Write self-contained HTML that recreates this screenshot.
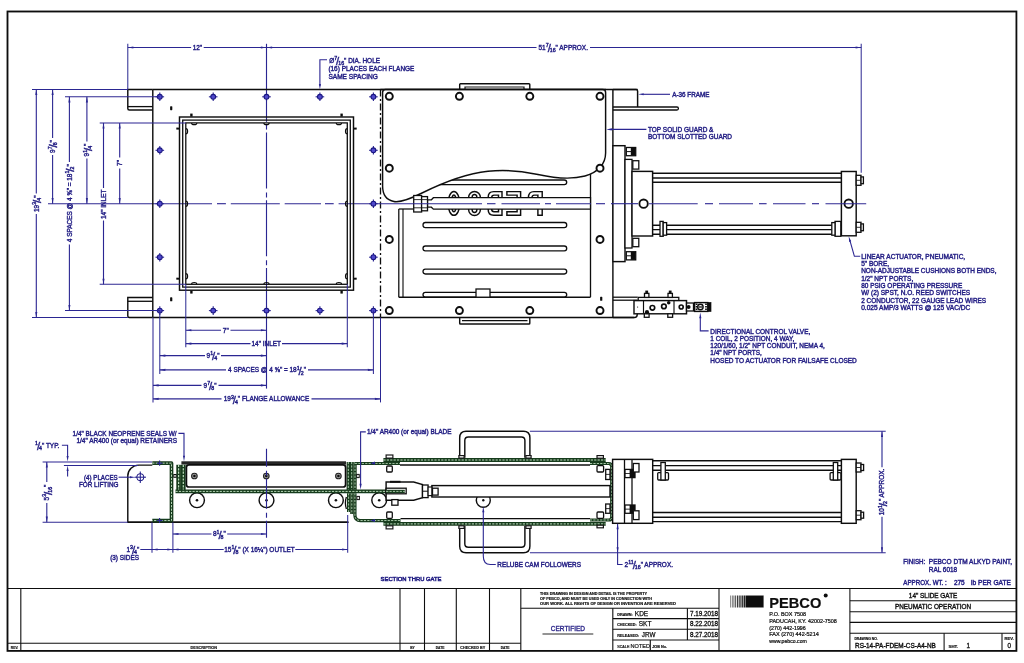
<!DOCTYPE html>
<html><head><meta charset="utf-8"><title>14" Slide Gate - Pneumatic Operation</title>
<style>
html,body{margin:0;padding:0;background:#fff;}
body{width:1024px;height:663px;overflow:hidden;font-family:"Liberation Sans",sans-serif;}
svg{display:block;}
svg text{font-family:"Liberation Sans",sans-serif;paint-order:stroke fill;}
</style></head><body>
<svg width="1024" height="663" viewBox="0 0 1024 663">
<defs>
<filter id="soft" x="0" y="0" width="100%" height="100%" filterUnits="userSpaceOnUse"><feGaussianBlur stdDeviation="0.38"/></filter>
<pattern id="hv" width="1.6" height="4" patternUnits="userSpaceOnUse"><rect width="1.6" height="4" fill="#b9dcb9"/><rect width="0.8" height="4" fill="#1d4a22"/></pattern>
<pattern id="hh" width="4" height="1.6" patternUnits="userSpaceOnUse"><rect width="4" height="1.6" fill="#b9dcb9"/><rect width="4" height="0.8" fill="#1d4a22"/></pattern>
<pattern id="hd" width="3.2" height="3.2" patternUnits="userSpaceOnUse"><rect width="3.2" height="3.2" fill="#1d4a22"/><rect x="0.4" y="1.1" width="2.2" height="1" fill="#b9dcb9"/></pattern>
</defs>
<rect width="1024" height="663" fill="#fff"/>
<g filter="url(#soft)">
<rect x="7.50" y="11.50" width="1008.90" height="639.40" rx="0" stroke="#111" stroke-width="1.81" fill="none" />
<line x1="7.5" y1="588.5" x2="1016.4" y2="588.5" stroke="#111" stroke-width="1.16" />
<line x1="20.8" y1="588.5" x2="20.8" y2="651" stroke="#111" stroke-width="1.09" />
<line x1="400" y1="588.5" x2="400" y2="651" stroke="#111" stroke-width="1.09" />
<line x1="424.5" y1="588.5" x2="424.5" y2="651" stroke="#111" stroke-width="1.09" />
<line x1="456.3" y1="588.5" x2="456.3" y2="651" stroke="#111" stroke-width="1.09" />
<line x1="489.5" y1="588.5" x2="489.5" y2="651" stroke="#111" stroke-width="1.09" />
<line x1="520.8" y1="588.5" x2="520.8" y2="651" stroke="#111" stroke-width="1.09" />
<line x1="7.5" y1="643.3" x2="520.8" y2="643.3" stroke="#111" stroke-width="1.09" />
<text x="14.5" y="648.6" font-size="3.3" fill="#111" stroke="#111" stroke-width="0.15" text-anchor="middle" font-weight="bold" >REV.</text>
<text x="203.8" y="648.6" font-size="3.3" fill="#111" stroke="#111" stroke-width="0.15" text-anchor="middle" font-weight="bold" textLength="26.5" lengthAdjust="spacingAndGlyphs" >DESCRIPTION</text>
<text x="412.5" y="648.6" font-size="3.3" fill="#111" stroke="#111" stroke-width="0.15" text-anchor="middle" font-weight="bold" >BY</text>
<text x="440" y="648.6" font-size="3.3" fill="#111" stroke="#111" stroke-width="0.15" text-anchor="middle" font-weight="bold" >DATE</text>
<text x="472.7" y="648.6" font-size="3.3" fill="#111" stroke="#111" stroke-width="0.15" text-anchor="middle" font-weight="bold" textLength="25" lengthAdjust="spacingAndGlyphs" >CHECKED BY</text>
<text x="505" y="648.6" font-size="3.3" fill="#111" stroke="#111" stroke-width="0.15" text-anchor="middle" font-weight="bold" >DATE</text>
<line x1="520.8" y1="608.2" x2="719" y2="608.2" stroke="#111" stroke-width="1.09" />
<line x1="612.8" y1="608.2" x2="612.8" y2="651" stroke="#111" stroke-width="1.09" />
<line x1="612.8" y1="618.6" x2="719" y2="618.6" stroke="#111" stroke-width="1.09" />
<line x1="612.8" y1="629.3" x2="719" y2="629.3" stroke="#111" stroke-width="1.09" />
<line x1="612.8" y1="640" x2="719" y2="640" stroke="#111" stroke-width="1.09" />
<line x1="687.4" y1="608.2" x2="687.4" y2="640" stroke="#111" stroke-width="1.09" />
<line x1="719" y1="588.5" x2="719" y2="651" stroke="#111" stroke-width="1.09" />
<line x1="650.3" y1="640" x2="650.3" y2="651" stroke="#111" stroke-width="1.09" />
<text x="540" y="594.6" font-size="3.05" fill="#111" stroke="#111" stroke-width="0.15" text-anchor="start" font-weight="bold" textLength="107" lengthAdjust="spacingAndGlyphs" >THIS DRAWING IN DESIGN AND DETAIL IS THE PROPERTY</text>
<text x="540" y="599.6" font-size="3.05" fill="#111" stroke="#111" stroke-width="0.15" text-anchor="start" font-weight="bold" textLength="112" lengthAdjust="spacingAndGlyphs" >OF PEBCO, AND MUST BE USED ONLY IN CONNECTION WITH</text>
<text x="540" y="604.6" font-size="3.05" fill="#111" stroke="#111" stroke-width="0.15" text-anchor="start" font-weight="bold" textLength="136" lengthAdjust="spacingAndGlyphs" >OUR WORK.  ALL RIGHTS OF DESIGN OR INVENTION ARE RESERVED</text>
<text x="567.9" y="631.4" font-size="6.5" fill="#231e84" stroke="#231e84" stroke-width="0.3" text-anchor="middle" font-weight="normal" textLength="34.2" lengthAdjust="spacingAndGlyphs" >CERTIFIED</text>
<line x1="542.5" y1="634" x2="593.3" y2="634" stroke="#2a2a2a" stroke-width="1.1" />
<text x="617.2" y="615.6" font-size="3.1" fill="#111" stroke="#111" stroke-width="0.15" text-anchor="start" font-weight="bold" textLength="15.5" lengthAdjust="spacingAndGlyphs" >DRAWN:</text>
<text x="634.8" y="615.8" font-size="6.3" fill="#111" stroke="#111" stroke-width="0.25" text-anchor="start" font-weight="normal" textLength="13.4" lengthAdjust="spacingAndGlyphs" >KDE</text>
<text x="617.2" y="626.2" font-size="3.1" fill="#111" stroke="#111" stroke-width="0.15" text-anchor="start" font-weight="bold" textLength="19.5" lengthAdjust="spacingAndGlyphs" >CHECKED:</text>
<text x="638.8" y="626.4" font-size="6.3" fill="#111" stroke="#111" stroke-width="0.25" text-anchor="start" font-weight="normal" textLength="12.6" lengthAdjust="spacingAndGlyphs" >SKT</text>
<text x="617.2" y="637" font-size="3.1" fill="#111" stroke="#111" stroke-width="0.15" text-anchor="start" font-weight="bold" textLength="22" lengthAdjust="spacingAndGlyphs" >RELEASED:</text>
<text x="641.8" y="637.2" font-size="6.3" fill="#111" stroke="#111" stroke-width="0.25" text-anchor="start" font-weight="normal" textLength="13.6" lengthAdjust="spacingAndGlyphs" >JRW</text>
<text x="617.2" y="647.6" font-size="3.6" fill="#111" stroke="#111" stroke-width="0.2" text-anchor="start" font-weight="normal" textLength="12.2" lengthAdjust="spacingAndGlyphs" >SCALE</text>
<text x="630.6" y="647.8" font-size="5.8" fill="#111" stroke="#111" stroke-width="0.2" text-anchor="start" font-weight="normal" textLength="19.5" lengthAdjust="spacingAndGlyphs" >NOTED</text>
<text x="652.2" y="647.8" font-size="3.1" fill="#111" stroke="#111" stroke-width="0.15" text-anchor="start" font-weight="bold" textLength="15" lengthAdjust="spacingAndGlyphs" >JOB No.</text>
<text x="690" y="615.6" font-size="6.3" fill="#111" stroke="#111" stroke-width="0.3" text-anchor="start" font-weight="normal" textLength="28" lengthAdjust="spacingAndGlyphs" >7.19.2018</text>
<text x="690" y="626.3" font-size="6.3" fill="#111" stroke="#111" stroke-width="0.3" text-anchor="start" font-weight="normal" textLength="28" lengthAdjust="spacingAndGlyphs" >8.22.2018</text>
<text x="690" y="637.1" font-size="6.3" fill="#111" stroke="#111" stroke-width="0.3" text-anchor="start" font-weight="normal" textLength="28" lengthAdjust="spacingAndGlyphs" >8.27.2018</text>
<rect x="730.2" y="595.5" width="0.5" height="12" fill="#222"/>
<rect x="731.9" y="595.5" width="0.6" height="12" fill="#222"/>
<rect x="733.6" y="595.5" width="0.7" height="12" fill="#222"/>
<rect x="735.3" y="595.5" width="0.8" height="12" fill="#222"/>
<rect x="737.0" y="595.5" width="0.9" height="12" fill="#222"/>
<rect x="738.7" y="595.5" width="1.0" height="12" fill="#222"/>
<rect x="740.4" y="595.5" width="1.1" height="12" fill="#222"/>
<rect x="742.1" y="595.5" width="1.3" height="12" fill="#222"/>
<rect x="743.9" y="595.5" width="1.4" height="12" fill="#222"/>
<rect x="745.6" y="595.5" width="18" height="12" fill="#111"/>
<text x="769.3" y="607.6" font-size="15.2" fill="#111" stroke="#111" stroke-width="0.2" text-anchor="start" font-weight="bold" textLength="52" lengthAdjust="spacingAndGlyphs" >PEBCO</text>
<circle cx="825.7" cy="595.6" r="2.0" stroke="#111" stroke-width="0.0" fill="#111"/>
<text x="769.3" y="616.2" font-size="5.2" fill="#111" stroke="#111" stroke-width="0.22" text-anchor="start" font-weight="normal" textLength="36.7" lengthAdjust="spacingAndGlyphs" >P.O. BOX 7508</text>
<text x="769.3" y="622.9" font-size="5.2" fill="#111" stroke="#111" stroke-width="0.22" text-anchor="start" font-weight="normal" textLength="67.5" lengthAdjust="spacingAndGlyphs" >PADUCAH, KY. 42002-7508</text>
<text x="769.3" y="629.6" font-size="5.2" fill="#111" stroke="#111" stroke-width="0.22" text-anchor="start" font-weight="normal" textLength="36.5" lengthAdjust="spacingAndGlyphs" >(270) 442-1996</text>
<text x="769.3" y="636.3" font-size="5.2" fill="#111" stroke="#111" stroke-width="0.22" text-anchor="start" font-weight="normal" textLength="49.5" lengthAdjust="spacingAndGlyphs" >FAX (270) 442-5214</text>
<text x="769.3" y="643.1" font-size="5.2" fill="#111" stroke="#111" stroke-width="0.22" text-anchor="start" font-weight="normal" textLength="37.5" lengthAdjust="spacingAndGlyphs" >www.pebco.com</text>
<line x1="849.9" y1="588.5" x2="849.9" y2="651" stroke="#111" stroke-width="1.09" />
<line x1="849.9" y1="600.7" x2="1016.6" y2="600.7" stroke="#111" stroke-width="1.09" />
<line x1="849.9" y1="611.7" x2="1016.6" y2="611.7" stroke="#111" stroke-width="1.09" />
<line x1="849.9" y1="622.4" x2="1016.6" y2="622.4" stroke="#111" stroke-width="1.09" />
<line x1="849.9" y1="633.2" x2="1016.6" y2="633.2" stroke="#111" stroke-width="1.09" />
<line x1="944.1" y1="633.2" x2="944.1" y2="651" stroke="#111" stroke-width="1.09" />
<line x1="1002" y1="633.2" x2="1002" y2="651" stroke="#111" stroke-width="1.09" />
<text x="933.1" y="597.7" font-size="6.3" fill="#111" stroke="#111" stroke-width="0.35" text-anchor="middle" font-weight="normal" textLength="48.5" lengthAdjust="spacingAndGlyphs" >14" SLIDE GATE</text>
<text x="933" y="608.7" font-size="6.3" fill="#111" stroke="#111" stroke-width="0.35" text-anchor="middle" font-weight="normal" textLength="76.2" lengthAdjust="spacingAndGlyphs" >PNEUMATIC OPERATION</text>
<text x="854.4" y="639.6" font-size="3.1" fill="#111" stroke="#111" stroke-width="0.15" text-anchor="start" font-weight="bold" textLength="23.4" lengthAdjust="spacingAndGlyphs" >DRAWING NO.</text>
<text x="855" y="648" font-size="6.3" fill="#111" stroke="#111" stroke-width="0.35" text-anchor="start" font-weight="normal" textLength="80.8" lengthAdjust="spacingAndGlyphs" >RS-14-PA-FDEM-CS-A4-NB</text>
<text x="948.6" y="648" font-size="3.1" fill="#111" stroke="#111" stroke-width="0.15" text-anchor="start" font-weight="bold" textLength="9.4" lengthAdjust="spacingAndGlyphs" >SHT.</text>
<text x="966.5" y="648" font-size="6.3" fill="#111" stroke="#111" stroke-width="0.3" text-anchor="start" font-weight="normal" >1</text>
<text x="1009.2" y="639.8" font-size="3.1" fill="#111" stroke="#111" stroke-width="0.15" text-anchor="middle" font-weight="bold" textLength="9.3" lengthAdjust="spacingAndGlyphs" >REV.</text>
<text x="1009.3" y="648" font-size="6.3" fill="#111" stroke="#111" stroke-width="0.3" text-anchor="middle" font-weight="normal" >0</text>
<text x="903.3" y="564" font-size="6.35" fill="#231e84" stroke="#231e84" stroke-width="0.4" text-anchor="start" font-weight="normal" textLength="22" lengthAdjust="spacingAndGlyphs" >FINISH:</text>
<text x="928.8" y="564" font-size="6.35" fill="#231e84" stroke="#231e84" stroke-width="0.4" text-anchor="start" font-weight="normal" textLength="83.4" lengthAdjust="spacingAndGlyphs" >PEBCO DTM ALKYD PAINT,</text>
<text x="928.8" y="572" font-size="6.35" fill="#231e84" stroke="#231e84" stroke-width="0.4" text-anchor="start" font-weight="normal" textLength="28.3" lengthAdjust="spacingAndGlyphs" >RAL 6018</text>
<text x="903.3" y="584.6" font-size="6.35" fill="#231e84" stroke="#231e84" stroke-width="0.4" text-anchor="start" font-weight="normal" textLength="43.5" lengthAdjust="spacingAndGlyphs" >APPROX. WT. :</text>
<text x="953.9" y="584.6" font-size="6.35" fill="#231e84" stroke="#231e84" stroke-width="0.4" text-anchor="start" font-weight="normal" textLength="10.8" lengthAdjust="spacingAndGlyphs" >275</text>
<text x="971" y="584.6" font-size="6.35" fill="#231e84" stroke="#231e84" stroke-width="0.4" text-anchor="start" font-weight="normal" textLength="40" lengthAdjust="spacingAndGlyphs" >lb PER GATE</text>
<line x1="48" y1="203.7" x2="212" y2="203.7" stroke="#2c2792" stroke-width="1.11" />
<line x1="217" y1="203.7" x2="225.9" y2="203.7" stroke="#2c2792" stroke-width="1.11" />
<line x1="230.8" y1="203.7" x2="279.8" y2="203.7" stroke="#2c2792" stroke-width="1.11" />
<line x1="284.7" y1="203.7" x2="321" y2="203.7" stroke="#2c2792" stroke-width="1.11" />
<line x1="325" y1="203.7" x2="333.7" y2="203.7" stroke="#2c2792" stroke-width="1.11" />
<line x1="338.6" y1="203.7" x2="380" y2="203.7" stroke="#2c2792" stroke-width="1.11" />
<line x1="266.5" y1="43.8" x2="266.5" y2="121.8" stroke="#2c2792" stroke-width="1.11" />
<line x1="266.5" y1="124.7" x2="266.5" y2="129.6" stroke="#2c2792" stroke-width="1.11" />
<line x1="266.5" y1="132.5" x2="266.5" y2="317.5" stroke="#2c2792" stroke-width="1.11" stroke-dasharray="56 4 5 2.8"/>
<line x1="266.5" y1="317.5" x2="266.5" y2="388.6" stroke="#2c2792" stroke-width="1.11" />
<line x1="152.8" y1="89.4" x2="637.6" y2="89.4" stroke="#111" stroke-width="1.45" />
<line x1="152.8" y1="89.4" x2="152.8" y2="317.5" stroke="#111" stroke-width="1.45" />
<line x1="152.8" y1="317.5" x2="634" y2="317.5" stroke="#111" stroke-width="1.45" />
<line x1="380.5" y1="89.4" x2="380.5" y2="317.5" stroke="#111" stroke-width="1.3" stroke-dasharray="7 2.5 2 2.5"/>
<path d="M152.8,89.4 H127.8 V108.5 Q127.8,110 129.3,110 H152.8" stroke="#111" stroke-width="1.45" fill="none" />
<line x1="127.8" y1="106.6" x2="152.8" y2="106.6" stroke="#111" stroke-width="1.3" />
<path d="M152.8,297.5 H127.8 V316 Q127.8,317.5 129.3,317.5 H152.8" stroke="#111" stroke-width="1.45" fill="none" />
<line x1="127.8" y1="301.3" x2="152.8" y2="301.3" stroke="#111" stroke-width="1.3" />
<rect x="170.10" y="106.20" width="2.20" height="4.00" rx="0.6" stroke="#111" stroke-width="0.0" fill="#111" />
<rect x="170.10" y="297.30" width="2.20" height="4.00" rx="0.6" stroke="#111" stroke-width="0.0" fill="#111" />
<line x1="155.5" y1="96.8" x2="164.10000000000002" y2="96.8" stroke="#2c2792" stroke-width="1.11" />
<line x1="159.8" y1="92.5" x2="159.8" y2="101.1" stroke="#2c2792" stroke-width="1.11" />
<circle cx="159.8" cy="96.8" r="2.4" stroke="#1a1680" stroke-width="1.1" fill="#5048cc"/>
<line x1="155.5" y1="150.3" x2="164.10000000000002" y2="150.3" stroke="#2c2792" stroke-width="1.11" />
<line x1="159.8" y1="146.0" x2="159.8" y2="154.60000000000002" stroke="#2c2792" stroke-width="1.11" />
<circle cx="159.8" cy="150.3" r="2.4" stroke="#1a1680" stroke-width="1.1" fill="#5048cc"/>
<line x1="155.5" y1="203.7" x2="164.10000000000002" y2="203.7" stroke="#2c2792" stroke-width="1.11" />
<line x1="159.8" y1="199.39999999999998" x2="159.8" y2="208.0" stroke="#2c2792" stroke-width="1.11" />
<circle cx="159.8" cy="203.7" r="2.4" stroke="#1a1680" stroke-width="1.1" fill="#5048cc"/>
<line x1="155.5" y1="257.2" x2="164.10000000000002" y2="257.2" stroke="#2c2792" stroke-width="1.11" />
<line x1="159.8" y1="252.89999999999998" x2="159.8" y2="261.5" stroke="#2c2792" stroke-width="1.11" />
<circle cx="159.8" cy="257.2" r="2.4" stroke="#1a1680" stroke-width="1.1" fill="#5048cc"/>
<line x1="155.5" y1="310.6" x2="164.10000000000002" y2="310.6" stroke="#2c2792" stroke-width="1.11" />
<line x1="159.8" y1="306.3" x2="159.8" y2="314.90000000000003" stroke="#2c2792" stroke-width="1.11" />
<circle cx="159.8" cy="310.6" r="2.4" stroke="#1a1680" stroke-width="1.1" fill="#5048cc"/>
<line x1="208.89999999999998" y1="96.8" x2="217.5" y2="96.8" stroke="#2c2792" stroke-width="1.11" />
<line x1="213.2" y1="92.5" x2="213.2" y2="101.1" stroke="#2c2792" stroke-width="1.11" />
<circle cx="213.2" cy="96.8" r="2.4" stroke="#1a1680" stroke-width="1.1" fill="#5048cc"/>
<line x1="208.89999999999998" y1="310.6" x2="217.5" y2="310.6" stroke="#2c2792" stroke-width="1.11" />
<line x1="213.2" y1="306.3" x2="213.2" y2="314.90000000000003" stroke="#2c2792" stroke-width="1.11" />
<circle cx="213.2" cy="310.6" r="2.4" stroke="#1a1680" stroke-width="1.1" fill="#5048cc"/>
<line x1="262.2" y1="96.8" x2="270.8" y2="96.8" stroke="#2c2792" stroke-width="1.11" />
<line x1="266.5" y1="92.5" x2="266.5" y2="101.1" stroke="#2c2792" stroke-width="1.11" />
<circle cx="266.5" cy="96.8" r="2.4" stroke="#1a1680" stroke-width="1.1" fill="#5048cc"/>
<line x1="262.2" y1="310.6" x2="270.8" y2="310.6" stroke="#2c2792" stroke-width="1.11" />
<line x1="266.5" y1="306.3" x2="266.5" y2="314.90000000000003" stroke="#2c2792" stroke-width="1.11" />
<circle cx="266.5" cy="310.6" r="2.4" stroke="#1a1680" stroke-width="1.1" fill="#5048cc"/>
<line x1="315.59999999999997" y1="96.8" x2="324.2" y2="96.8" stroke="#2c2792" stroke-width="1.11" />
<line x1="319.9" y1="92.5" x2="319.9" y2="101.1" stroke="#2c2792" stroke-width="1.11" />
<circle cx="319.9" cy="96.8" r="2.4" stroke="#1a1680" stroke-width="1.1" fill="#5048cc"/>
<line x1="315.59999999999997" y1="310.6" x2="324.2" y2="310.6" stroke="#2c2792" stroke-width="1.11" />
<line x1="319.9" y1="306.3" x2="319.9" y2="314.90000000000003" stroke="#2c2792" stroke-width="1.11" />
<circle cx="319.9" cy="310.6" r="2.4" stroke="#1a1680" stroke-width="1.1" fill="#5048cc"/>
<line x1="369.09999999999997" y1="96.8" x2="377.7" y2="96.8" stroke="#2c2792" stroke-width="1.11" />
<line x1="373.4" y1="92.5" x2="373.4" y2="101.1" stroke="#2c2792" stroke-width="1.11" />
<circle cx="373.4" cy="96.8" r="2.4" stroke="#1a1680" stroke-width="1.1" fill="#5048cc"/>
<line x1="369.09999999999997" y1="150.3" x2="377.7" y2="150.3" stroke="#2c2792" stroke-width="1.11" />
<line x1="373.4" y1="146.0" x2="373.4" y2="154.60000000000002" stroke="#2c2792" stroke-width="1.11" />
<circle cx="373.4" cy="150.3" r="2.4" stroke="#1a1680" stroke-width="1.1" fill="#5048cc"/>
<line x1="369.09999999999997" y1="203.7" x2="377.7" y2="203.7" stroke="#2c2792" stroke-width="1.11" />
<line x1="373.4" y1="199.39999999999998" x2="373.4" y2="208.0" stroke="#2c2792" stroke-width="1.11" />
<circle cx="373.4" cy="203.7" r="2.4" stroke="#1a1680" stroke-width="1.1" fill="#5048cc"/>
<line x1="369.09999999999997" y1="257.2" x2="377.7" y2="257.2" stroke="#2c2792" stroke-width="1.11" />
<line x1="373.4" y1="252.89999999999998" x2="373.4" y2="261.5" stroke="#2c2792" stroke-width="1.11" />
<circle cx="373.4" cy="257.2" r="2.4" stroke="#1a1680" stroke-width="1.1" fill="#5048cc"/>
<line x1="369.09999999999997" y1="310.6" x2="377.7" y2="310.6" stroke="#2c2792" stroke-width="1.11" />
<line x1="373.4" y1="306.3" x2="373.4" y2="314.90000000000003" stroke="#2c2792" stroke-width="1.11" />
<circle cx="373.4" cy="310.6" r="2.4" stroke="#1a1680" stroke-width="1.1" fill="#5048cc"/>
<rect x="179.50" y="117.00" width="174.00" height="173.20" rx="0" stroke="#111" stroke-width="1.45" fill="none" />
<rect x="182.70" y="120.10" width="167.60" height="167.00" rx="0" stroke="#111" stroke-width="1.3" fill="none" />
<rect x="185.80" y="122.90" width="161.50" height="161.40" rx="0" stroke="#111" stroke-width="1.3" fill="none" />
<rect x="190.20" y="113.60" width="2.40" height="3.00" rx="0" stroke="#111" stroke-width="0.0" fill="#111" />
<rect x="190.20" y="290.60" width="2.40" height="3.00" rx="0" stroke="#111" stroke-width="0.0" fill="#111" />
<rect x="340.40" y="113.60" width="2.40" height="3.00" rx="0" stroke="#111" stroke-width="0.0" fill="#111" />
<rect x="340.40" y="290.60" width="2.40" height="3.00" rx="0" stroke="#111" stroke-width="0.0" fill="#111" />
<rect x="176.30" y="127.60" width="3.00" height="2.00" rx="0" stroke="#111" stroke-width="0.0" fill="#111" />
<rect x="353.70" y="127.60" width="3.00" height="2.00" rx="0" stroke="#111" stroke-width="0.0" fill="#111" />
<rect x="176.30" y="277.70" width="3.00" height="2.00" rx="0" stroke="#111" stroke-width="0.0" fill="#111" />
<rect x="353.70" y="277.70" width="3.00" height="2.00" rx="0" stroke="#111" stroke-width="0.0" fill="#111" />
<path d="M191.6,122.9 a2.6,1.8 0 0 0 5.2,0" stroke="#111" stroke-width="1.16" fill="none" />
<path d="M191.6,284.3 a2.6,1.8 0 0 1 5.2,0" stroke="#111" stroke-width="1.16" fill="none" />
<path d="M263.9,122.9 a2.6,1.8 0 0 0 5.2,0" stroke="#111" stroke-width="1.16" fill="none" />
<path d="M263.9,284.3 a2.6,1.8 0 0 1 5.2,0" stroke="#111" stroke-width="1.16" fill="none" />
<path d="M336.29999999999995,122.9 a2.6,1.8 0 0 0 5.2,0" stroke="#111" stroke-width="1.16" fill="none" />
<path d="M336.29999999999995,284.3 a2.6,1.8 0 0 1 5.2,0" stroke="#111" stroke-width="1.16" fill="none" />
<path d="M185.8,128.6 a1.8,2.6 0 0 1 0,5.2" stroke="#111" stroke-width="1.16" fill="none" />
<path d="M347.3,128.6 a1.8,2.6 0 0 0 0,5.2" stroke="#111" stroke-width="1.16" fill="none" />
<path d="M185.8,201.1 a1.8,2.6 0 0 1 0,5.2" stroke="#111" stroke-width="1.16" fill="none" />
<path d="M347.3,201.1 a1.8,2.6 0 0 0 0,5.2" stroke="#111" stroke-width="1.16" fill="none" />
<path d="M185.8,273.59999999999997 a1.8,2.6 0 0 1 0,5.2" stroke="#111" stroke-width="1.16" fill="none" />
<path d="M347.3,273.59999999999997 a1.8,2.6 0 0 0 0,5.2" stroke="#111" stroke-width="1.16" fill="none" />
<line x1="398.8" y1="209" x2="398.8" y2="297.2" stroke="#111" stroke-width="1.3" />
<line x1="403" y1="209" x2="403" y2="297.2" stroke="#111" stroke-width="1.16" />
<line x1="398.8" y1="297.2" x2="590.5" y2="297.2" stroke="#111" stroke-width="1.45" />
<line x1="590.5" y1="170" x2="590.5" y2="297.2" stroke="#111" stroke-width="1.3" />
<line x1="398.8" y1="209" x2="413.4" y2="209" stroke="#111" stroke-width="1.3" />
<rect x="423.00" y="180.00" width="143.70" height="4.70" rx="2.4" stroke="#111" stroke-width="1.3" fill="#fff" />
<rect x="423.00" y="222.50" width="143.70" height="5.10" rx="2.4" stroke="#111" stroke-width="1.3" fill="#fff" />
<rect x="423.00" y="246.00" width="143.70" height="4.90" rx="2.4" stroke="#111" stroke-width="1.3" fill="#fff" />
<rect x="423.00" y="269.20" width="143.70" height="4.80" rx="2.4" stroke="#111" stroke-width="1.3" fill="#fff" />
<rect x="423.00" y="292.30" width="143.70" height="4.70" rx="2.4" stroke="#111" stroke-width="1.3" fill="#fff" />
<rect x="476.00" y="289.00" width="14.00" height="8.20" rx="0" stroke="#111" stroke-width="1.3" fill="#fff" />
<ellipse cx="453.9" cy="203.45" rx="5.900000000000006" ry="11.850000000000009" fill="none" stroke="#111" stroke-width="1.45"/>
<ellipse cx="453.9" cy="203.45" rx="2.4000000000000057" ry="8.350000000000009" fill="none" stroke="#111" stroke-width="1.45"/>
<path d="M468.6,198.95 V197.45 A5.899999999999977,5.950000000000008 0 0 1 480.4,197.45 V209.45 A5.899999999999977,5.950000000000008 0 0 1 468.6,209.45 V207.95 H472.1 V209.45 A2.3999999999999773,2.9500000000000086 0 0 0 476.9,209.45 V197.45 A2.3999999999999773,2.9500000000000086 0 0 0 472.1,197.45 V198.95 Z" stroke="#111" stroke-width="1.45" fill="none" />
<path d="M502,191.6 H493.7 Q488.2,191.6 488.2,197.1 Q488.2,202.45 490.2,203.45 Q488.2,204.45 488.2,209.8 Q488.2,215.3 493.7,215.3 H502 Z" stroke="#111" stroke-width="1.45" fill="none" />
<path d="M498.5,195.1 H494.2 Q491.7,195.1 491.7,197.6 Q491.7,201.45 494.2,201.45 H498.5 Z" stroke="#111" stroke-width="1.45" fill="none" />
<path d="M498.5,211.8 H494.2 Q491.7,211.8 491.7,209.3 Q491.7,205.45 494.2,205.45 H498.5 Z" stroke="#111" stroke-width="1.45" fill="none" />
<path d="M506.9,191.6 H520.6 V215.3 H506.9 V211.8 H517.1 V205.25 H508.4 V201.64999999999998 H517.1 V195.1 H506.9 Z" stroke="#111" stroke-width="1.45" fill="none" />
<path d="M542.2,191.6 H533.9 Q528.4,191.6 528.4,197.6 V200.45 Q528.4,205.95 533.9,205.95 H537.9000000000001 V215.3 H542.2 Z" stroke="#111" stroke-width="1.45" fill="none" />
<path d="M537.9000000000001,195.1 H534.4 Q531.9,195.1 531.9,198.1 V199.95 Q531.9,202.45 534.4,202.45 H537.9000000000001 Z" stroke="#111" stroke-width="1.45" fill="none" />
<path d="M427.5,199.8 H431.4 L433.4,197.7 H590.5 V209.1 H433.4 L431.4,207.2 H427.5 Z" stroke="#111" stroke-width="1.3" fill="#fff" />
<path d="M385.5,89.4 H602.6 Q605.6,89.4 605.6,92.4 V153 C605.6,164 598,172.5 585,176 C572,179.5 556,178.5 538,174.5 C520,170.5 505,169.5 488,171.2 C462,174 440,184 422,193 C410,199 400,202.5 394,201.5 C386,200 382.6,194 382.6,186 V92.4 Q382.6,89.4 385.5,89.4 Z" stroke="#111" stroke-width="1.45" fill="#fff" />
<line x1="380.5" y1="89.4" x2="606" y2="89.4" stroke="#111" stroke-width="1.45" />
<rect x="413.70" y="195.50" width="7.90" height="16.50" rx="0" stroke="#111" stroke-width="1.3" fill="#fff" />
<rect x="421.60" y="196.60" width="5.90" height="14.20" rx="0" stroke="#111" stroke-width="1.3" fill="#fff" />
<line x1="413.7" y1="199.6" x2="427.5" y2="199.6" stroke="#111" stroke-width="0.87" />
<line x1="413.7" y1="207.8" x2="427.5" y2="207.8" stroke="#111" stroke-width="0.87" />
<line x1="380" y1="203.7" x2="482" y2="203.7" stroke="#2c2792" stroke-width="1.11" />
<line x1="487" y1="203.7" x2="495.5" y2="203.7" stroke="#2c2792" stroke-width="1.11" />
<line x1="501.5" y1="203.7" x2="540" y2="203.7" stroke="#2c2792" stroke-width="1.11" />
<line x1="545" y1="203.7" x2="551" y2="203.7" stroke="#2c2792" stroke-width="1.11" />
<line x1="556" y1="203.7" x2="591" y2="203.7" stroke="#2c2792" stroke-width="1.11" />
<line x1="596" y1="203.7" x2="605" y2="203.7" stroke="#2c2792" stroke-width="1.11" />
<path d="M459.7,89.4 V84.6 Q459.7,83.8 460.5,83.8 H529 Q529.8,83.8 529.8,84.6 V89.4" stroke="#111" stroke-width="1.45" fill="none" />
<path d="M465,89.4 V87 H524 V89.4" stroke="#111" stroke-width="1.16" fill="none" />
<path d="M459.7,317.5 V323.2 Q459.7,324 460.5,324 H529 Q529.8,324 529.8,323.2 V317.5" stroke="#111" stroke-width="1.45" fill="none" />
<line x1="462" y1="320.6" x2="527.5" y2="320.6" stroke="#111" stroke-width="1.16" />
<circle cx="389.3" cy="96.3" r="3.5" stroke="#111" stroke-width="1.96" fill="#fff"/>
<circle cx="459.4" cy="96.3" r="3.5" stroke="#111" stroke-width="1.96" fill="#fff"/>
<circle cx="529.8" cy="96.3" r="3.5" stroke="#111" stroke-width="1.96" fill="#fff"/>
<circle cx="600" cy="96.3" r="3.5" stroke="#111" stroke-width="1.96" fill="#fff"/>
<circle cx="389.3" cy="168.2" r="3.5" stroke="#111" stroke-width="1.96" fill="#fff"/>
<circle cx="600" cy="168.2" r="3.5" stroke="#111" stroke-width="1.96" fill="#fff"/>
<circle cx="389.3" cy="239.4" r="3.5" stroke="#111" stroke-width="1.96" fill="#fff"/>
<circle cx="600" cy="239.4" r="3.5" stroke="#111" stroke-width="1.96" fill="#fff"/>
<circle cx="389.3" cy="310.6" r="3.5" stroke="#111" stroke-width="1.96" fill="#fff"/>
<circle cx="459.4" cy="310.6" r="3.5" stroke="#111" stroke-width="1.96" fill="#fff"/>
<circle cx="529.8" cy="310.6" r="3.5" stroke="#111" stroke-width="1.96" fill="#fff"/>
<circle cx="600" cy="310.6" r="3.5" stroke="#111" stroke-width="1.96" fill="#fff"/>
<rect x="600.10" y="296.80" width="2.20" height="4.00" rx="0.6" stroke="#111" stroke-width="0.0" fill="#111" />
<line x1="612.9" y1="89.4" x2="612.9" y2="317.5" stroke="#111" stroke-width="1.45" />
<path d="M612.9,89.4 H636 Q637.6,89.4 637.6,91 V107" stroke="#111" stroke-width="1.45" fill="none" />
<path d="M612.9,107 H677 Q678.4,107 678.4,108.5 Q678.4,110 677,110 H612.9" stroke="#111" stroke-width="1.3" fill="none" />
<line x1="612.9" y1="297.2" x2="637.6" y2="297.2" stroke="#111" stroke-width="1.3" />
<line x1="612.9" y1="300.2" x2="637.6" y2="300.2" stroke="#111" stroke-width="1.3" />
<path d="M612.9,317.5 H634.5 Q637.2,317.5 637.2,314.8 V300.2" stroke="#111" stroke-width="1.45" fill="none" />
<rect x="612.90" y="145.70" width="12.10" height="115.90" rx="0" stroke="#111" stroke-width="1.45" fill="#fff" />
<rect x="625.00" y="159.40" width="7.00" height="88.60" rx="0" stroke="#111" stroke-width="1.3" fill="#fff" />
<rect x="632.00" y="171.40" width="20.60" height="64.60" rx="0" stroke="#111" stroke-width="1.45" fill="#fff" />
<rect x="626.30" y="147.50" width="9.40" height="8.20" rx="0" stroke="#111" stroke-width="1.3" fill="#fff" />
<rect x="630.80" y="147.50" width="4.90" height="8.20" rx="0" stroke="#111" stroke-width="0.0" fill="#111" />
<line x1="626.3" y1="151.6" x2="631" y2="151.6" stroke="#111" stroke-width="1.01" />
<rect x="632.80" y="160.70" width="6.00" height="8.40" rx="0" stroke="#111" stroke-width="1.3" fill="#fff" />
<rect x="626.30" y="251.70" width="9.40" height="8.20" rx="0" stroke="#111" stroke-width="1.3" fill="#fff" />
<rect x="630.80" y="251.70" width="4.90" height="8.20" rx="0" stroke="#111" stroke-width="0.0" fill="#111" />
<line x1="626.3" y1="255.79999999999998" x2="631" y2="255.79999999999998" stroke="#111" stroke-width="1.01" />
<rect x="632.80" y="238.30" width="6.00" height="8.40" rx="0" stroke="#111" stroke-width="1.3" fill="#fff" />
<line x1="652.6" y1="173.2" x2="841.4" y2="173.2" stroke="#111" stroke-width="1.45" />
<line x1="652.6" y1="177.9" x2="841.4" y2="177.9" stroke="#111" stroke-width="1.45" />
<line x1="652.6" y1="182.2" x2="841.4" y2="182.2" stroke="#111" stroke-width="1.45" />
<line x1="652.6" y1="225.2" x2="841.4" y2="225.2" stroke="#111" stroke-width="1.45" />
<line x1="652.6" y1="229.6" x2="841.4" y2="229.6" stroke="#111" stroke-width="1.45" />
<line x1="652.6" y1="234.2" x2="841.4" y2="234.2" stroke="#111" stroke-width="1.45" />
<rect x="841.40" y="171.50" width="14.80" height="64.30" rx="0" stroke="#111" stroke-width="1.45" fill="#fff" />
<rect x="856.20" y="175.30" width="4.80" height="10.00" rx="0" stroke="#111" stroke-width="1.3" fill="#fff" />
<rect x="861.00" y="176.90" width="2.40" height="6.80" rx="0" stroke="#111" stroke-width="1.3" fill="#fff" />
<line x1="856.2" y1="180.3" x2="861" y2="180.3" stroke="#111" stroke-width="0.87" />
<rect x="856.20" y="222.30" width="4.80" height="10.00" rx="0" stroke="#111" stroke-width="1.3" fill="#fff" />
<rect x="861.00" y="223.90" width="2.40" height="6.80" rx="0" stroke="#111" stroke-width="1.3" fill="#fff" />
<line x1="856.2" y1="227.3" x2="861" y2="227.3" stroke="#111" stroke-width="0.87" />
<rect x="660.00" y="221.40" width="3.20" height="14.90" rx="0" stroke="#111" stroke-width="1.3" fill="#fff" />
<rect x="663.20" y="222.60" width="3.40" height="12.60" rx="0" stroke="#111" stroke-width="1.3" fill="#fff" />
<rect x="835.00" y="221.40" width="5.80" height="14.90" rx="0" stroke="#111" stroke-width="1.3" fill="#fff" />
<rect x="831.80" y="222.60" width="3.20" height="12.60" rx="0" stroke="#111" stroke-width="1.3" fill="#fff" />
<circle cx="643.6" cy="203.7" r="4.2" stroke="#111" stroke-width="1.89" fill="#fff"/>
<circle cx="848.7" cy="203.7" r="4.2" stroke="#111" stroke-width="1.89" fill="#fff"/>
<line x1="611" y1="203.7" x2="638" y2="203.7" stroke="#2c2792" stroke-width="1.11" />
<line x1="649" y1="203.7" x2="697.7" y2="203.7" stroke="#2c2792" stroke-width="1.11" />
<line x1="705" y1="203.7" x2="713" y2="203.7" stroke="#2c2792" stroke-width="1.11" />
<line x1="719" y1="203.7" x2="753" y2="203.7" stroke="#2c2792" stroke-width="1.11" />
<line x1="759" y1="203.7" x2="766.6" y2="203.7" stroke="#2c2792" stroke-width="1.11" />
<line x1="773" y1="203.7" x2="805.5" y2="203.7" stroke="#2c2792" stroke-width="1.11" />
<line x1="812" y1="203.7" x2="819" y2="203.7" stroke="#2c2792" stroke-width="1.11" />
<line x1="825.5" y1="203.7" x2="866.2" y2="203.7" stroke="#2c2792" stroke-width="1.11" />
<rect x="638.20" y="297.40" width="40.60" height="3.20" rx="0" stroke="#111" stroke-width="1.3" fill="#fff" />
<rect x="634.00" y="300.60" width="52.50" height="13.20" rx="0" stroke="#111" stroke-width="1.45" fill="#fff" />
<line x1="643.5" y1="300.6" x2="643.5" y2="313.8" stroke="#111" stroke-width="1.16" />
<line x1="674" y1="300.6" x2="674" y2="313.8" stroke="#111" stroke-width="1.16" />
<rect x="644.50" y="293.40" width="4.40" height="4.00" rx="0" stroke="#111" stroke-width="1.3" fill="#fff" />
<rect x="645.30" y="290.60" width="2.80" height="2.80" rx="0" stroke="#111" stroke-width="0.0" fill="#111" />
<rect x="644.30" y="313.80" width="4.80" height="3.50" rx="0" stroke="#111" stroke-width="1.3" fill="#fff" />
<rect x="668.00" y="293.40" width="4.40" height="4.00" rx="0" stroke="#111" stroke-width="1.3" fill="#fff" />
<rect x="668.80" y="290.60" width="2.80" height="2.80" rx="0" stroke="#111" stroke-width="0.0" fill="#111" />
<rect x="667.80" y="313.80" width="4.80" height="3.50" rx="0" stroke="#111" stroke-width="1.3" fill="#fff" />
<circle cx="652.4" cy="307.8" r="2.3" stroke="#111" stroke-width="1.67" fill="none"/>
<circle cx="663.9" cy="306.4" r="2.3" stroke="#111" stroke-width="1.67" fill="none"/>
<circle cx="681.2" cy="307" r="2.0" stroke="#111" stroke-width="1.67" fill="none"/>
<circle cx="647" cy="312.2" r="2.1" stroke="#111" stroke-width="0.0" fill="#111"/>
<circle cx="668.7" cy="302.8" r="1.8" stroke="#111" stroke-width="0.0" fill="#111"/>
<circle cx="637.6" cy="307" r="0.6" stroke="#111" stroke-width="0.0" fill="#111"/>
<rect x="686.50" y="303.00" width="7.00" height="8.00" rx="0" stroke="#111" stroke-width="1.3" fill="#fff" />
<circle cx="688.6" cy="307" r="2.0" stroke="#111" stroke-width="0.0" fill="#111"/>
<rect x="694.60" y="302.60" width="13.20" height="8.80" rx="0" stroke="#111" stroke-width="1.45" fill="#fff" />
<rect x="707.80" y="302.60" width="3.20" height="8.80" rx="0" stroke="#111" stroke-width="0.72" fill="#111" />
<path d="M696.6,303.4 V310.6" stroke="#111" stroke-width="1.74" fill="none" stroke-dasharray="1.5 1"/>
<path d="M706,303.4 V310.6" stroke="#111" stroke-width="1.74" fill="none" stroke-dasharray="1.5 1"/>
<circle cx="700.4" cy="307" r="2.7" stroke="#111" stroke-width="1.45" fill="#fff"/>
<line x1="698.6" y1="307" x2="702.2" y2="307" stroke="#111" stroke-width="1.3" />
<line x1="127.8" y1="43.8" x2="127.8" y2="89.4" stroke="#2c2792" stroke-width="1.02" />
<line x1="861.2" y1="43.8" x2="861.2" y2="172.8" stroke="#2c2792" stroke-width="1.02" />
<line x1="127.8" y1="47.5" x2="191.1" y2="47.5" stroke="#2c2792" stroke-width="1.11" />
<line x1="203.7" y1="47.5" x2="266.5" y2="47.5" stroke="#2c2792" stroke-width="1.11" />
<polygon points="127.80,47.50 133.40,46.45 133.40,48.55" fill="#2c2792"/>
<polygon points="266.50,47.50 260.90,48.55 260.90,46.45" fill="#2c2792"/>
<text x="197.39999999999998" y="49.822" font-size="6.45" fill="#231e84" stroke="#231e84" stroke-width="0.4" text-anchor="middle">12"</text>
<line x1="266.5" y1="47.5" x2="536.5" y2="47.5" stroke="#2c2792" stroke-width="1.11" />
<line x1="590.0" y1="47.5" x2="861.2" y2="47.5" stroke="#2c2792" stroke-width="1.11" />
<polygon points="266.50,47.50 272.10,46.45 272.10,48.55" fill="#2c2792"/>
<polygon points="861.20,47.50 855.60,48.55 855.60,46.45" fill="#2c2792"/>
<text x="563.25" y="49.822" font-size="6.45" fill="#231e84" stroke="#231e84" stroke-width="0.4" text-anchor="middle">51<tspan font-size="5.29" dy="-2.71">7</tspan><tspan font-size="11.29" dx="-1.03" dy="5.22">/</tspan><tspan font-size="5.29" dx="-1.03" dy="0">16</tspan><tspan dy="-2.52">" APPROX.</tspan></text>
<line x1="32" y1="89.4" x2="127.8" y2="89.4" stroke="#2c2792" stroke-width="1.02" />
<line x1="32" y1="317.5" x2="127.8" y2="317.5" stroke="#2c2792" stroke-width="1.02" />
<line x1="65" y1="96.8" x2="159.8" y2="96.8" stroke="#2c2792" stroke-width="1.02" />
<line x1="65" y1="310.6" x2="159.8" y2="310.6" stroke="#2c2792" stroke-width="1.02" />
<line x1="99.7" y1="122.9" x2="185.8" y2="122.9" stroke="#2c2792" stroke-width="1.02" />
<line x1="99.7" y1="284.3" x2="185.8" y2="284.3" stroke="#2c2792" stroke-width="1.02" />
<line x1="36.3" y1="89.4" x2="36.3" y2="193.5" stroke="#2c2792" stroke-width="1.11" />
<line x1="36.3" y1="214.0" x2="36.3" y2="317.5" stroke="#2c2792" stroke-width="1.11" />
<polygon points="36.30,89.40 37.35,95.00 35.25,95.00" fill="#2c2792"/>
<polygon points="36.30,317.50 35.25,311.90 37.35,311.90" fill="#2c2792"/>
<text x="38.622" y="203.75" font-size="6.45" fill="#231e84" stroke="#231e84" stroke-width="0.4" text-anchor="middle" transform="rotate(-90 38.622 203.75)">19<tspan font-size="5.29" dy="-2.71">3</tspan><tspan font-size="11.29" dx="-1.03" dy="5.22">/</tspan><tspan font-size="5.29" dx="-1.03" dy="0">4</tspan><tspan dy="-2.52">"</tspan></text>
<line x1="52.6" y1="89.4" x2="52.6" y2="138.0" stroke="#2c2792" stroke-width="1.11" />
<line x1="52.6" y1="155.0" x2="52.6" y2="203.7" stroke="#2c2792" stroke-width="1.11" />
<polygon points="52.60,89.40 53.65,95.00 51.55,95.00" fill="#2c2792"/>
<polygon points="52.60,203.70 51.55,198.10 53.65,198.10" fill="#2c2792"/>
<text x="54.922000000000004" y="146.5" font-size="6.45" fill="#231e84" stroke="#231e84" stroke-width="0.4" text-anchor="middle" transform="rotate(-90 54.922000000000004 146.5)">9<tspan font-size="5.29" dy="-2.71">7</tspan><tspan font-size="11.29" dx="-1.03" dy="5.22">/</tspan><tspan font-size="5.29" dx="-1.03" dy="0">8</tspan><tspan dy="-2.52">"</tspan></text>
<line x1="69.4" y1="96.8" x2="69.4" y2="162.0" stroke="#2c2792" stroke-width="1.11" />
<line x1="69.4" y1="244.5" x2="69.4" y2="310.6" stroke="#2c2792" stroke-width="1.11" />
<polygon points="69.40,96.80 70.45,102.40 68.35,102.40" fill="#2c2792"/>
<polygon points="69.40,310.60 68.35,305.00 70.45,305.00" fill="#2c2792"/>
<text x="71.72200000000001" y="203.25" font-size="6.45" fill="#231e84" stroke="#231e84" stroke-width="0.4" text-anchor="middle" transform="rotate(-90 71.72200000000001 203.25)">4 SPACES @ 4 ⅝" = 18<tspan font-size="5.29" dy="-2.71">1</tspan><tspan font-size="11.29" dx="-1.03" dy="5.22">/</tspan><tspan font-size="5.29" dx="-1.03" dy="0">2</tspan><tspan dy="-2.52">"</tspan></text>
<line x1="86.9" y1="96.8" x2="86.9" y2="141.5" stroke="#2c2792" stroke-width="1.11" />
<line x1="86.9" y1="158.5" x2="86.9" y2="203.7" stroke="#2c2792" stroke-width="1.11" />
<polygon points="86.90,96.80 87.95,102.40 85.85,102.40" fill="#2c2792"/>
<polygon points="86.90,203.70 85.85,198.10 87.95,198.10" fill="#2c2792"/>
<text x="89.22200000000001" y="150.0" font-size="6.45" fill="#231e84" stroke="#231e84" stroke-width="0.4" text-anchor="middle" transform="rotate(-90 89.22200000000001 150.0)">9<tspan font-size="5.29" dy="-2.71">1</tspan><tspan font-size="11.29" dx="-1.03" dy="5.22">/</tspan><tspan font-size="5.29" dx="-1.03" dy="0">4</tspan><tspan dy="-2.52">"</tspan></text>
<line x1="103.5" y1="122.9" x2="103.5" y2="188.0" stroke="#2c2792" stroke-width="1.11" />
<line x1="103.5" y1="220.5" x2="103.5" y2="284.3" stroke="#2c2792" stroke-width="1.11" />
<polygon points="103.50,122.90 104.55,128.50 102.45,128.50" fill="#2c2792"/>
<polygon points="103.50,284.30 102.45,278.70 104.55,278.70" fill="#2c2792"/>
<text x="105.822" y="204.25" font-size="6.45" fill="#231e84" stroke="#231e84" stroke-width="0.4" text-anchor="middle" transform="rotate(-90 105.822 204.25)">14" INLET</text>
<line x1="119.7" y1="122.9" x2="119.7" y2="157.5" stroke="#2c2792" stroke-width="1.11" />
<line x1="119.7" y1="168.5" x2="119.7" y2="203.7" stroke="#2c2792" stroke-width="1.11" />
<polygon points="119.70,122.90 120.75,128.50 118.65,128.50" fill="#2c2792"/>
<polygon points="119.70,203.70 118.65,198.10 120.75,198.10" fill="#2c2792"/>
<text x="122.022" y="163.0" font-size="6.45" fill="#231e84" stroke="#231e84" stroke-width="0.4" text-anchor="middle" transform="rotate(-90 122.022 163.0)">7"</text>
<line x1="153" y1="317.5" x2="153" y2="402.4" stroke="#2c2792" stroke-width="1.02" />
<line x1="380.5" y1="317.5" x2="380.5" y2="402.4" stroke="#2c2792" stroke-width="1.02" />
<line x1="159.8" y1="310.6" x2="159.8" y2="374" stroke="#2c2792" stroke-width="1.02" />
<line x1="373.4" y1="310.6" x2="373.4" y2="374" stroke="#2c2792" stroke-width="1.02" />
<line x1="185.8" y1="284.3" x2="185.8" y2="347.3" stroke="#2c2792" stroke-width="1.02" />
<line x1="347.3" y1="284.3" x2="347.3" y2="347.3" stroke="#2c2792" stroke-width="1.02" />
<line x1="185.8" y1="330.3" x2="221.0" y2="330.3" stroke="#2c2792" stroke-width="1.11" />
<line x1="230.5" y1="330.3" x2="266.5" y2="330.3" stroke="#2c2792" stroke-width="1.11" />
<polygon points="185.80,330.30 191.40,329.25 191.40,331.35" fill="#2c2792"/>
<polygon points="266.50,330.30 260.90,331.35 260.90,329.25" fill="#2c2792"/>
<text x="225.75" y="332.622" font-size="6.45" fill="#231e84" stroke="#231e84" stroke-width="0.4" text-anchor="middle">7"</text>
<line x1="185.8" y1="343.6" x2="250.5" y2="343.6" stroke="#2c2792" stroke-width="1.11" />
<line x1="282.0" y1="343.6" x2="347.3" y2="343.6" stroke="#2c2792" stroke-width="1.11" />
<polygon points="185.80,343.60 191.40,342.55 191.40,344.65" fill="#2c2792"/>
<polygon points="347.30,343.60 341.70,344.65 341.70,342.55" fill="#2c2792"/>
<text x="266.25" y="345.922" font-size="6.45" fill="#231e84" stroke="#231e84" stroke-width="0.4" text-anchor="middle">14" INLET</text>
<line x1="159.8" y1="355.6" x2="205.0" y2="355.6" stroke="#2c2792" stroke-width="1.11" />
<line x1="221.0" y1="355.6" x2="266.5" y2="355.6" stroke="#2c2792" stroke-width="1.11" />
<polygon points="159.80,355.60 165.40,354.55 165.40,356.65" fill="#2c2792"/>
<polygon points="266.50,355.60 260.90,356.65 260.90,354.55" fill="#2c2792"/>
<text x="213.0" y="357.922" font-size="6.45" fill="#231e84" stroke="#231e84" stroke-width="0.4" text-anchor="middle">9<tspan font-size="5.29" dy="-2.71">1</tspan><tspan font-size="11.29" dx="-1.03" dy="5.22">/</tspan><tspan font-size="5.29" dx="-1.03" dy="0">4</tspan><tspan dy="-2.52">"</tspan></text>
<line x1="159.8" y1="369.9" x2="226.0" y2="369.9" stroke="#2c2792" stroke-width="1.11" />
<line x1="308.0" y1="369.9" x2="373.4" y2="369.9" stroke="#2c2792" stroke-width="1.11" />
<polygon points="159.80,369.90 165.40,368.85 165.40,370.95" fill="#2c2792"/>
<polygon points="373.40,369.90 367.80,370.95 367.80,368.85" fill="#2c2792"/>
<text x="267.0" y="372.222" font-size="6.45" fill="#231e84" stroke="#231e84" stroke-width="0.4" text-anchor="middle">4 SPACES @ 4 ⅝" = 18<tspan font-size="5.29" dy="-2.71">1</tspan><tspan font-size="11.29" dx="-1.03" dy="5.22">/</tspan><tspan font-size="5.29" dx="-1.03" dy="0">2</tspan><tspan dy="-2.52">"</tspan></text>
<line x1="153" y1="385.4" x2="201.5" y2="385.4" stroke="#2c2792" stroke-width="1.11" />
<line x1="218.5" y1="385.4" x2="266.5" y2="385.4" stroke="#2c2792" stroke-width="1.11" />
<polygon points="153.00,385.40 158.60,384.35 158.60,386.45" fill="#2c2792"/>
<polygon points="266.50,385.40 260.90,386.45 260.90,384.35" fill="#2c2792"/>
<text x="210.0" y="387.722" font-size="6.45" fill="#231e84" stroke="#231e84" stroke-width="0.4" text-anchor="middle">9<tspan font-size="5.29" dy="-2.71">7</tspan><tspan font-size="11.29" dx="-1.03" dy="5.22">/</tspan><tspan font-size="5.29" dx="-1.03" dy="0">8</tspan><tspan dy="-2.52">"</tspan></text>
<line x1="153" y1="398.9" x2="221.5" y2="398.9" stroke="#2c2792" stroke-width="1.11" />
<line x1="311.5" y1="398.9" x2="380.5" y2="398.9" stroke="#2c2792" stroke-width="1.11" />
<polygon points="153.00,398.90 158.60,397.85 158.60,399.95" fill="#2c2792"/>
<polygon points="380.50,398.90 374.90,399.95 374.90,397.85" fill="#2c2792"/>
<text x="266.5" y="401.222" font-size="6.45" fill="#231e84" stroke="#231e84" stroke-width="0.4" text-anchor="middle">19<tspan font-size="5.29" dy="-2.71">3</tspan><tspan font-size="11.29" dx="-1.03" dy="5.22">/</tspan><tspan font-size="5.29" dx="-1.03" dy="0">4</tspan><tspan dy="-2.52">" FLANGE ALLOWANCE</tspan></text>
<text x="329.2" y="62.6" font-size="6.45" fill="#231e84" stroke="#231e84" stroke-width="0.4" text-anchor="start">Ø<tspan font-size="5.29" dy="-2.71">7</tspan><tspan font-size="11.29" dx="-1.03" dy="5.22">/</tspan><tspan font-size="5.29" dx="-1.03" dy="0">16</tspan><tspan dy="-2.52">" DIA. HOLE</tspan></text>
<text x="328.4" y="70.6" font-size="6.35" fill="#231e84" stroke="#231e84" stroke-width="0.4" text-anchor="start" font-weight="normal" textLength="86" lengthAdjust="spacingAndGlyphs" >(16) PLACES EACH FLANGE</text>
<text x="328.4" y="78.6" font-size="6.35" fill="#231e84" stroke="#231e84" stroke-width="0.4" text-anchor="start" font-weight="normal" textLength="49.5" lengthAdjust="spacingAndGlyphs" >SAME SPACING</text>
<path d="M327,59.7 H319.9 V86" stroke="#2c2792" stroke-width="1.11" fill="none" />
<polygon points="319.90,89.60 318.85,84.00 320.95,84.00" fill="#2c2792"/>
<text x="672.2" y="96.6" font-size="6.35" fill="#231e84" stroke="#231e84" stroke-width="0.4" text-anchor="start" font-weight="normal" textLength="37.3" lengthAdjust="spacingAndGlyphs" >A-36 FRAME</text>
<line x1="643" y1="94.3" x2="670" y2="94.3" stroke="#2c2792" stroke-width="1.11" />
<polygon points="638.00,94.30 643.60,93.25 643.60,95.35" fill="#2c2792"/>
<text x="648" y="131.7" font-size="6.35" fill="#231e84" stroke="#231e84" stroke-width="0.4" text-anchor="start" font-weight="normal" textLength="65.4" lengthAdjust="spacingAndGlyphs" >TOP SOLID GUARD &amp;</text>
<text x="648" y="139.1" font-size="6.35" fill="#231e84" stroke="#231e84" stroke-width="0.4" text-anchor="start" font-weight="normal" textLength="84" lengthAdjust="spacingAndGlyphs" >BOTTOM SLOTTED GUARD</text>
<line x1="611" y1="129.4" x2="646.4" y2="129.4" stroke="#2c2792" stroke-width="1.11" />
<polygon points="606.20,129.40 611.80,128.35 611.80,130.45" fill="#2c2792"/>
<text x="861.2" y="258.8" font-size="6.35" fill="#231e84" stroke="#231e84" stroke-width="0.4" text-anchor="start" font-weight="normal" textLength="104" lengthAdjust="spacingAndGlyphs" >LINEAR ACTUATOR, PNEUMATIC,</text>
<text x="861.2" y="266.12" font-size="6.35" fill="#231e84" stroke="#231e84" stroke-width="0.4" text-anchor="start" font-weight="normal" textLength="28" lengthAdjust="spacingAndGlyphs" >5" BORE,</text>
<text x="861.2" y="273.44" font-size="6.35" fill="#231e84" stroke="#231e84" stroke-width="0.4" text-anchor="start" font-weight="normal" textLength="135.3" lengthAdjust="spacingAndGlyphs" >NON-ADJUSTABLE CUSHIONS BOTH ENDS,</text>
<text x="861.2" y="280.76" font-size="6.35" fill="#231e84" stroke="#231e84" stroke-width="0.4" text-anchor="start" font-weight="normal" textLength="52" lengthAdjust="spacingAndGlyphs" >1/2" NPT PORTS,</text>
<text x="861.2" y="288.08000000000004" font-size="6.35" fill="#231e84" stroke="#231e84" stroke-width="0.4" text-anchor="start" font-weight="normal" textLength="101" lengthAdjust="spacingAndGlyphs" >80 PSIG OPERATING PRESSURE</text>
<text x="861.2" y="295.40000000000003" font-size="6.35" fill="#231e84" stroke="#231e84" stroke-width="0.4" text-anchor="start" font-weight="normal" textLength="109" lengthAdjust="spacingAndGlyphs" >W/ (2) SPST, N.O. REED SWITCHES</text>
<text x="861.2" y="302.72" font-size="6.35" fill="#231e84" stroke="#231e84" stroke-width="0.4" text-anchor="start" font-weight="normal" textLength="125" lengthAdjust="spacingAndGlyphs" >2 CONDUCTOR, 22 GAUGE LEAD WIRES</text>
<text x="861.2" y="310.04" font-size="6.35" fill="#231e84" stroke="#231e84" stroke-width="0.4" text-anchor="start" font-weight="normal" textLength="109" lengthAdjust="spacingAndGlyphs" >0.025 AMP/3 WATTS @ 125 VAC/DC</text>
<path d="M849.8,240.2 L854.4,256.3 H860.2" stroke="#2c2792" stroke-width="1.11" fill="none" />
<polygon points="848.70,236.20 851.17,241.33 849.15,241.88" fill="#2c2792"/>
<text x="710.3" y="333.7" font-size="6.35" fill="#231e84" stroke="#231e84" stroke-width="0.4" text-anchor="start" font-weight="normal" textLength="100" lengthAdjust="spacingAndGlyphs" >DIRECTIONAL CONTROL VALVE,</text>
<text x="710.3" y="340.9" font-size="6.35" fill="#231e84" stroke="#231e84" stroke-width="0.4" text-anchor="start" font-weight="normal" textLength="84" lengthAdjust="spacingAndGlyphs" >1 COIL, 2 POSITION, 4 WAY,</text>
<text x="710.3" y="348.09999999999997" font-size="6.35" fill="#231e84" stroke="#231e84" stroke-width="0.4" text-anchor="start" font-weight="normal" textLength="114.5" lengthAdjust="spacingAndGlyphs" >120/1/60, 1/2" NPT CONDUIT, NEMA 4,</text>
<text x="710.3" y="355.3" font-size="6.35" fill="#231e84" stroke="#231e84" stroke-width="0.4" text-anchor="start" font-weight="normal" textLength="51.5" lengthAdjust="spacingAndGlyphs" >1/4" NPT PORTS,</text>
<text x="710.3" y="362.5" font-size="6.35" fill="#231e84" stroke="#231e84" stroke-width="0.4" text-anchor="start" font-weight="normal" textLength="146.5" lengthAdjust="spacingAndGlyphs" >HOSED TO ACTUATOR FOR FAILSAFE CLOSED</text>
<path d="M700.3,317 V330.9 H708.6" stroke="#2c2792" stroke-width="1.11" fill="none" />
<polygon points="700.30,312.60 701.35,318.20 699.25,318.20" fill="#2c2792"/>
<line x1="529.9" y1="431.3" x2="885.7" y2="431.3" stroke="#2c2792" stroke-width="1.11" />
<line x1="529.9" y1="552.8" x2="885.7" y2="552.8" stroke="#2c2792" stroke-width="1.11" />
<path d="M459.7,457.8 V437.8 Q459.7,431.3 466.2,431.3 H523.4 Q529.9,431.3 529.9,437.8 V457.8" stroke="#111" stroke-width="1.45" fill="#fff" />
<path d="M464.8,457.8 V440.5 Q464.8,437 468.3,437 H521.4 Q524.9,437 524.9,440.5 V457.8" stroke="#111" stroke-width="1.45" fill="#fff" />
<path d="M459.7,526 V546.3 Q459.7,552.8 466.2,552.8 H523.4 Q529.9,552.8 529.9,546.3 V526" stroke="#111" stroke-width="1.45" fill="#fff" />
<path d="M464.8,526 V543.8 Q464.8,547.3 468.3,547.3 H521.4 Q524.9,547.3 524.9,543.8 V526" stroke="#111" stroke-width="1.45" fill="#fff" />
<path d="M152.3,465.1 H138.8 A11,11 0 0 0 127.8,476.1 V522.2 H348.4" stroke="#111" stroke-width="1.45" fill="none" />
<line x1="127.8" y1="522.2" x2="348.4" y2="522.2" stroke="#111" stroke-width="1.45" />
<line x1="134.6" y1="477.2" x2="146" y2="477.2" stroke="#2c2792" stroke-width="1.11" />
<line x1="140.3" y1="471.5" x2="140.3" y2="482.9" stroke="#2c2792" stroke-width="1.11" />
<circle cx="140.3" cy="477.2" r="3.6" stroke="#1a1680" stroke-width="1.0" fill="none"/>
<path d="M152.3,463.15 H171.5 V520.55 H152.3" stroke="#173a1c" stroke-width="3.7" fill="none" stroke-linejoin="round"/>
<path d="M152.3,463.15 H171.5 V520.55 H152.3" stroke="#bfe0bf" stroke-width="0.96" fill="none" stroke-dasharray="2.2 1.2" stroke-linejoin="round"/>
<line x1="157" y1="463.2" x2="162.5" y2="463.2" stroke="#2c2792" stroke-width="1.11" />
<line x1="159.6" y1="460.59999999999997" x2="159.6" y2="465.8" stroke="#2c2792" stroke-width="1.11" />
<line x1="157" y1="520.5" x2="162.5" y2="520.5" stroke="#2c2792" stroke-width="1.11" />
<line x1="159.6" y1="517.9" x2="159.6" y2="523.1" stroke="#2c2792" stroke-width="1.11" />
<rect x="181.40" y="461.30" width="164.60" height="3.30" rx="0" stroke="#222" stroke-width="0" fill="#262626" />
<path d="M178.6,464.8 V490" stroke="#173a1c" stroke-width="4.6" fill="none" stroke-linejoin="miter"/>
<path d="M178.6,464.8 V490" stroke="#bfe0bf" stroke-width="1.20" fill="none" stroke-dasharray="2.2 1.2" stroke-linejoin="round"/>
<path d="M183.3,464.8 V490" stroke="#173a1c" stroke-width="4.7" fill="none" stroke-linejoin="miter"/>
<path d="M183.3,464.8 V490" stroke="#bfe0bf" stroke-width="1.22" fill="none" stroke-dasharray="2.2 1.2" stroke-linejoin="round"/>
<path d="M348.3,462 V490" stroke="#173a1c" stroke-width="3.4" fill="none" stroke-linejoin="round"/>
<path d="M348.3,462 V490" stroke="#bfe0bf" stroke-width="0.88" fill="none" stroke-dasharray="2.2 1.2" stroke-linejoin="round"/>
<path d="M351.7,462 V490" stroke="#173a1c" stroke-width="3.4" fill="none" stroke-linejoin="round"/>
<path d="M351.7,462 V490" stroke="#bfe0bf" stroke-width="0.88" fill="none" stroke-dasharray="2.2 1.2" stroke-linejoin="round"/>
<path d="M355,462 V490" stroke="#173a1c" stroke-width="3.4" fill="none" stroke-linejoin="round"/>
<path d="M355,462 V490" stroke="#bfe0bf" stroke-width="0.88" fill="none" stroke-dasharray="2.2 1.2" stroke-linejoin="round"/>
<rect x="173.80" y="474.50" width="2.40" height="2.80" rx="0" stroke="#111" stroke-width="1.01" fill="#fff" />
<rect x="356.70" y="474.40" width="2.50" height="3.20" rx="0" stroke="#111" stroke-width="1.01" fill="#fff" />
<path d="M355,463.45 H400" stroke="#173a1c" stroke-width="3.1" fill="none" stroke-linejoin="round"/>
<path d="M355,463.45 H400" stroke="#bfe0bf" stroke-width="0.81" fill="none" stroke-dasharray="2.2 1.2" stroke-linejoin="round"/>
<rect x="186.40" y="464.80" width="159.20" height="22.20" rx="2.5" stroke="#111" stroke-width="1.74" fill="#fff" />
<circle cx="194.4" cy="476" r="2.8" stroke="#222" stroke-width="1.1" fill="#999"/>
<circle cx="194.4" cy="476" r="1.3" stroke="#111" stroke-width="0.0" fill="#111"/>
<circle cx="266.3" cy="476" r="2.8" stroke="#222" stroke-width="1.1" fill="#999"/>
<circle cx="266.3" cy="476" r="1.3" stroke="#111" stroke-width="0.0" fill="#111"/>
<circle cx="338.4" cy="476" r="2.8" stroke="#222" stroke-width="1.1" fill="#999"/>
<circle cx="338.4" cy="476" r="1.3" stroke="#111" stroke-width="0.0" fill="#111"/>
<circle cx="197" cy="500.2" r="7.4" stroke="#111" stroke-width="1.45" fill="#fff"/>
<circle cx="197" cy="500.2" r="1.3" stroke="#111" stroke-width="0.0" fill="#111"/>
<circle cx="266.5" cy="500.2" r="7.4" stroke="#111" stroke-width="1.45" fill="#fff"/>
<circle cx="266.5" cy="500.2" r="1.3" stroke="#111" stroke-width="0.0" fill="#111"/>
<circle cx="335.9" cy="500.2" r="7.4" stroke="#111" stroke-width="1.45" fill="#fff"/>
<circle cx="335.9" cy="500.2" r="1.3" stroke="#111" stroke-width="0.0" fill="#111"/>
<circle cx="379.2" cy="500.2" r="7.4" stroke="#111" stroke-width="1.45" fill="#fff"/>
<circle cx="379.2" cy="500.2" r="1.3" stroke="#111" stroke-width="0.0" fill="#111"/>
<path d="M348.6,493.2 V512" stroke="#173a1c" stroke-width="3.2" fill="none" stroke-linejoin="round"/>
<path d="M348.6,493.2 V512" stroke="#bfe0bf" stroke-width="0.83" fill="none" stroke-dasharray="2.2 1.2" stroke-linejoin="round"/>
<path d="M351.8,493.2 V514" stroke="#173a1c" stroke-width="3.2" fill="none" stroke-linejoin="round"/>
<path d="M351.8,493.2 V514" stroke="#bfe0bf" stroke-width="0.83" fill="none" stroke-dasharray="2.2 1.2" stroke-linejoin="round"/>
<path d="M354.9,493.2 V515 Q354.9,520.55 360.5,520.55 H400.5" stroke="#173a1c" stroke-width="3.3" fill="none" stroke-linejoin="round"/>
<path d="M354.9,493.2 V515 Q354.9,520.55 360.5,520.55 H400.5" stroke="#bfe0bf" stroke-width="0.86" fill="none" stroke-dasharray="2.2 1.2" stroke-linejoin="round"/>
<path d="M346.4,497 Q344.4,503 346.4,509" stroke="#111" stroke-width="1.3" fill="none" />
<rect x="356.90" y="496.40" width="2.50" height="3.20" rx="0" stroke="#111" stroke-width="1.01" fill="#fff" />
<path d="M175.5,491.4 H406.2" stroke="#173a1c" stroke-width="3.6" fill="none" stroke-linejoin="round"/>
<path d="M175.5,491.4 H406.2" stroke="#bfe0bf" stroke-width="0.94" fill="none" stroke-dasharray="2.2 1.2" stroke-linejoin="round"/>
<path d="M383.4,460 H605.7" stroke="#173a1c" stroke-width="3.8" fill="none" stroke-linejoin="round"/>
<path d="M383.4,460 H605.7" stroke="#bfe0bf" stroke-width="0.99" fill="none" stroke-dasharray="2.2 1.2" stroke-linejoin="round"/>
<path d="M383.4,523.9 H605.7" stroke="#173a1c" stroke-width="3.8" fill="none" stroke-linejoin="round"/>
<path d="M383.4,523.9 H605.7" stroke="#bfe0bf" stroke-width="0.99" fill="none" stroke-dasharray="2.2 1.2" stroke-linejoin="round"/>
<path d="M590,463.5 H608.6 Q611.7,463.5 611.7,466.6 V516.9 Q611.7,520 608.6,520 H590" stroke="#173a1c" stroke-width="3.2" fill="none" stroke-linejoin="round"/>
<path d="M590,463.5 H608.6 Q611.7,463.5 611.7,466.6 V516.9 Q611.7,520 608.6,520 H590" stroke="#bfe0bf" stroke-width="0.83" fill="none" stroke-dasharray="2.2 1.2" stroke-linejoin="round"/>
<line x1="400" y1="465" x2="590" y2="465" stroke="#111" stroke-width="1.3" />
<line x1="400.5" y1="518.7" x2="590" y2="518.7" stroke="#111" stroke-width="1.3" />
<polygon points="370.50,463.20 375.00,461.60 375.00,464.80" fill="#2c2792"/>
<polygon points="370.50,520.50 375.00,518.90 375.00,522.10" fill="#2c2792"/>
<rect x="386.10" y="455.00" width="6.80" height="3.10" rx="0" stroke="#111" stroke-width="1.16" fill="#fff" />
<rect x="386.70" y="466.00" width="5.60" height="6.00" rx="1" stroke="#111" stroke-width="1.3" fill="#fff" />
<rect x="386.10" y="525.80" width="6.80" height="3.10" rx="0" stroke="#111" stroke-width="1.16" fill="#fff" />
<rect x="386.70" y="512.00" width="5.60" height="6.30" rx="1" stroke="#111" stroke-width="1.3" fill="#fff" />
<rect x="458.90" y="455.60" width="5.20" height="2.50" rx="0" stroke="#111" stroke-width="1.16" fill="#fff" />
<rect x="458.90" y="525.80" width="5.20" height="2.60" rx="0" stroke="#111" stroke-width="1.16" fill="#fff" />
<rect x="525.90" y="455.60" width="5.20" height="2.50" rx="0" stroke="#111" stroke-width="1.16" fill="#fff" />
<rect x="525.90" y="525.80" width="5.20" height="2.60" rx="0" stroke="#111" stroke-width="1.16" fill="#fff" />
<rect x="597.00" y="455.60" width="6.40" height="2.60" rx="0" stroke="#111" stroke-width="1.16" fill="#fff" />
<rect x="597.00" y="465.70" width="6.60" height="6.30" rx="1" stroke="#111" stroke-width="1.3" fill="#fff" />
<rect x="597.00" y="525.20" width="6.40" height="2.60" rx="0" stroke="#111" stroke-width="1.16" fill="#fff" />
<rect x="597.00" y="512.00" width="6.60" height="6.30" rx="1" stroke="#111" stroke-width="1.3" fill="#fff" />
<rect x="605.70" y="469.40" width="4.30" height="10.10" rx="0" stroke="#111" stroke-width="1.3" fill="#fff" />
<line x1="605.7" y1="474.4" x2="610" y2="474.4" stroke="#111" stroke-width="0.87" />
<rect x="605.70" y="504.00" width="4.30" height="9.30" rx="0" stroke="#111" stroke-width="1.3" fill="#fff" />
<line x1="605.7" y1="508.6" x2="610" y2="508.6" stroke="#111" stroke-width="0.87" />
<circle cx="483.3" cy="500.2" r="7.0" stroke="#111" stroke-width="1.45" fill="#fff"/>
<circle cx="483.3" cy="500.2" r="1.2" stroke="#111" stroke-width="0.0" fill="#111"/>
<rect x="431.90" y="485.60" width="178.10" height="11.40" rx="0" stroke="#111" stroke-width="1.45" fill="#fff" />
<path d="M386.1,482 H413.7 L422.5,484.6 V497.8 L413.7,500.2 H386.1 Z" stroke="#111" stroke-width="1.45" fill="#fff" />
<rect x="386.10" y="488.20" width="20.10" height="5.60" rx="0" stroke="#111" stroke-width="1.3" fill="#fff" />
<path d="M386.1,491.4 H404.8" stroke="#173a1c" stroke-width="3.2" fill="none" stroke-linejoin="round"/>
<path d="M386.1,491.4 H404.8" stroke="#bfe0bf" stroke-width="0.83" fill="none" stroke-dasharray="2.2 1.2" stroke-linejoin="round"/>
<rect x="390.00" y="480.80" width="10.50" height="2.00" rx="0" stroke="#111" stroke-width="0.0" fill="#111" />
<rect x="422.50" y="485.00" width="5.60" height="12.60" rx="0" stroke="#111" stroke-width="1.3" fill="#fff" />
<line x1="422.5" y1="491.2" x2="428.1" y2="491.2" stroke="#111" stroke-width="1.01" />
<rect x="428.10" y="487.00" width="3.80" height="8.60" rx="0" stroke="#111" stroke-width="1.16" fill="#fff" />
<rect x="432.50" y="488.20" width="5.60" height="6.90" rx="0" stroke="#111" stroke-width="1.3" fill="#fff" />
<rect x="391.80" y="499.60" width="6.20" height="5.60" rx="0" stroke="#111" stroke-width="1.3" fill="#fff" />
<rect x="612.60" y="459.40" width="40.10" height="63.90" rx="0" stroke="#111" stroke-width="1.45" fill="#fff" />
<line x1="624.5" y1="459.4" x2="624.5" y2="523.3" stroke="#111" stroke-width="1.3" />
<line x1="632" y1="459.4" x2="632" y2="523.3" stroke="#111" stroke-width="1.3" />
<rect x="625.00" y="469.40" width="10.00" height="8.20" rx="0" stroke="#111" stroke-width="1.3" fill="#fff" />
<rect x="629.60" y="469.40" width="5.40" height="8.20" rx="0" stroke="#111" stroke-width="0.0" fill="#111" />
<line x1="625" y1="473.5" x2="630" y2="473.5" stroke="#111" stroke-width="0.87" />
<rect x="633.30" y="463.50" width="5.70" height="8.50" rx="0" stroke="#111" stroke-width="1.3" fill="#fff" />
<rect x="625.00" y="505.00" width="10.00" height="8.30" rx="0" stroke="#111" stroke-width="1.3" fill="#fff" />
<rect x="629.60" y="505.00" width="5.40" height="8.30" rx="0" stroke="#111" stroke-width="0.0" fill="#111" />
<line x1="625" y1="509.15" x2="630" y2="509.15" stroke="#111" stroke-width="0.87" />
<rect x="633.30" y="510.80" width="5.70" height="8.80" rx="0" stroke="#111" stroke-width="1.3" fill="#fff" />
<line x1="652.7" y1="460.7" x2="841.4" y2="460.7" stroke="#111" stroke-width="1.45" />
<line x1="652.7" y1="465.6" x2="841.4" y2="465.6" stroke="#111" stroke-width="1.45" />
<line x1="652.7" y1="470.2" x2="841.4" y2="470.2" stroke="#111" stroke-width="1.45" />
<line x1="652.7" y1="512.6" x2="841.4" y2="512.6" stroke="#111" stroke-width="1.45" />
<line x1="652.7" y1="517.2" x2="841.4" y2="517.2" stroke="#111" stroke-width="1.45" />
<line x1="652.7" y1="521.6" x2="841.4" y2="521.6" stroke="#111" stroke-width="1.45" />
<rect x="841.40" y="459.40" width="14.80" height="63.90" rx="0" stroke="#111" stroke-width="1.45" fill="#fff" />
<rect x="856.20" y="463.00" width="4.80" height="9.00" rx="0" stroke="#111" stroke-width="1.3" fill="#fff" />
<rect x="861.00" y="464.50" width="2.60" height="6.00" rx="0" stroke="#111" stroke-width="1.3" fill="#fff" />
<line x1="856.2" y1="467.5" x2="861" y2="467.5" stroke="#111" stroke-width="0.87" />
<rect x="856.20" y="510.70" width="4.80" height="9.00" rx="0" stroke="#111" stroke-width="1.3" fill="#fff" />
<rect x="861.00" y="512.20" width="2.60" height="6.00" rx="0" stroke="#111" stroke-width="1.3" fill="#fff" />
<line x1="856.2" y1="515.2" x2="861" y2="515.2" stroke="#111" stroke-width="0.87" />
<rect x="657.70" y="472.60" width="10.80" height="7.40" rx="1" stroke="#111" stroke-width="1.3" fill="#fff" />
<rect x="660.90" y="462.50" width="4.40" height="17.50" rx="0" stroke="#111" stroke-width="1.3" fill="#fff" />
<rect x="830.10" y="472.60" width="10.80" height="7.40" rx="1" stroke="#111" stroke-width="1.3" fill="#fff" />
<rect x="833.30" y="462.50" width="4.40" height="17.50" rx="0" stroke="#111" stroke-width="1.3" fill="#fff" />
<line x1="266.5" y1="448.8" x2="266.5" y2="537.7" stroke="#2c2792" stroke-width="1.11" stroke-dasharray="30 4 5 3" stroke-dashoffset="12"/>
<text x="72.6" y="435.9" font-size="6.35" fill="#231e84" stroke="#231e84" stroke-width="0.4" text-anchor="start" font-weight="normal" textLength="104" lengthAdjust="spacingAndGlyphs" >1/4" BLACK NEOPRENE SEALS W/</text>
<text x="76.4" y="443.1" font-size="6.35" fill="#231e84" stroke="#231e84" stroke-width="0.4" text-anchor="start" font-weight="normal" textLength="100.6" lengthAdjust="spacingAndGlyphs" >1/4" AR400 (or equal) RETAINERS</text>
<path d="M178.4,433.4 H184 V457" stroke="#2c2792" stroke-width="1.11" fill="none" />
<polygon points="184.00,461.40 182.95,455.80 185.05,455.80" fill="#2c2792"/>
<text x="35" y="447.7" font-size="6.45" fill="#231e84" stroke="#231e84" stroke-width="0.4" text-anchor="start"><tspan font-size="5.29" dy="-2.71">1</tspan><tspan font-size="11.29" dx="-1.03" dy="5.22">/</tspan><tspan font-size="5.29" dx="-1.03" dy="0">4</tspan><tspan dy="-2.52">" TYP.</tspan></text>
<path d="M61.9,445.3 H67.6 V457" stroke="#2c2792" stroke-width="1.11" fill="none" />
<polygon points="67.60,461.60 66.55,456.00 68.65,456.00" fill="#2c2792"/>
<line x1="67.6" y1="476.4" x2="67.6" y2="470" stroke="#2c2792" stroke-width="1.11" />
<polygon points="67.60,465.50 68.65,471.10 66.55,471.10" fill="#2c2792"/>
<line x1="42.6" y1="461.9" x2="152" y2="461.9" stroke="#2c2792" stroke-width="1.02" />
<line x1="63.9" y1="465.4" x2="138" y2="465.4" stroke="#2c2792" stroke-width="1.02" />
<line x1="42.6" y1="522.2" x2="127.8" y2="522.2" stroke="#2c2792" stroke-width="1.02" />
<line x1="46.8" y1="461.9" x2="46.8" y2="482.0" stroke="#2c2792" stroke-width="1.11" />
<line x1="46.8" y1="503.0" x2="46.8" y2="522.2" stroke="#2c2792" stroke-width="1.11" />
<polygon points="46.80,461.90 47.85,467.50 45.75,467.50" fill="#2c2792"/>
<polygon points="46.80,522.20 45.75,516.60 47.85,516.60" fill="#2c2792"/>
<text x="49.122" y="492.5" font-size="6.45" fill="#231e84" stroke="#231e84" stroke-width="0.4" text-anchor="middle" transform="rotate(-90 49.122 492.5)">5<tspan font-size="5.29" dy="-2.71">3</tspan><tspan font-size="11.29" dx="-1.03" dy="5.22">/</tspan><tspan font-size="5.29" dx="-1.03" dy="0">16</tspan><tspan dy="-2.52">"</tspan></text>
<text x="84" y="479.5" font-size="6.35" fill="#231e84" stroke="#231e84" stroke-width="0.4" text-anchor="start" font-weight="normal" textLength="33.7" lengthAdjust="spacingAndGlyphs" >(4) PLACES</text>
<text x="78.9" y="487" font-size="6.35" fill="#231e84" stroke="#231e84" stroke-width="0.4" text-anchor="start" font-weight="normal" textLength="39.6" lengthAdjust="spacingAndGlyphs" >FOR LIFTING</text>
<line x1="118.6" y1="477.2" x2="131" y2="477.2" stroke="#2c2792" stroke-width="1.11" />
<polygon points="135.60,477.20 130.00,478.25 130.00,476.15" fill="#2c2792"/>
<line x1="152" y1="522.4" x2="152" y2="552.8" stroke="#2c2792" stroke-width="1.02" />
<line x1="172.9" y1="522.4" x2="172.9" y2="552.8" stroke="#2c2792" stroke-width="1.02" />
<line x1="347.7" y1="515" x2="347.7" y2="552.8" stroke="#2c2792" stroke-width="1.02" />
<line x1="172.9" y1="534" x2="211.5" y2="534" stroke="#2c2792" stroke-width="1.11" />
<line x1="227.2" y1="534" x2="266.5" y2="534" stroke="#2c2792" stroke-width="1.11" />
<polygon points="172.90,534.00 178.50,532.95 178.50,535.05" fill="#2c2792"/>
<polygon points="266.50,534.00 260.90,535.05 260.90,532.95" fill="#2c2792"/>
<text x="219.35" y="536.322" font-size="6.45" fill="#231e84" stroke="#231e84" stroke-width="0.4" text-anchor="middle">8<tspan font-size="5.29" dy="-2.71">1</tspan><tspan font-size="11.29" dx="-1.03" dy="5.22">/</tspan><tspan font-size="5.29" dx="-1.03" dy="0">8</tspan><tspan dy="-2.52">"</tspan></text>
<line x1="172.9" y1="549.5" x2="223.7" y2="549.5" stroke="#2c2792" stroke-width="1.11" />
<line x1="295.3" y1="549.5" x2="347.7" y2="549.5" stroke="#2c2792" stroke-width="1.11" />
<polygon points="172.90,549.50 178.50,548.45 178.50,550.55" fill="#2c2792"/>
<polygon points="347.70,549.50 342.10,550.55 342.10,548.45" fill="#2c2792"/>
<text x="259.5" y="551.822" font-size="6.45" fill="#231e84" stroke="#231e84" stroke-width="0.4" text-anchor="middle">15<tspan font-size="5.29" dy="-2.71">1</tspan><tspan font-size="11.29" dx="-1.03" dy="5.22">/</tspan><tspan font-size="5.29" dx="-1.03" dy="0">8</tspan><tspan dy="-2.52">" (X 16¼") OUTLET</tspan></text>
<line x1="140.3" y1="549.5" x2="172.9" y2="549.5" stroke="#2c2792" stroke-width="1.11" />
<polygon points="152.00,549.50 157.60,548.45 157.60,550.55" fill="#2c2792"/>
<polygon points="172.90,549.50 167.30,550.55 167.30,548.45" fill="#2c2792"/>
<polygon points="152.00,549.50 151.90,549.60 151.90,549.40" fill="#2c2792"/>
<text x="126.5" y="551.8" font-size="6.45" fill="#231e84" stroke="#231e84" stroke-width="0.4" text-anchor="start">1<tspan font-size="5.29" dy="-2.71">3</tspan><tspan font-size="11.29" dx="-1.03" dy="5.22">/</tspan><tspan font-size="5.29" dx="-1.03" dy="0">4</tspan><tspan dy="-2.52">"</tspan></text>
<text x="110.2" y="560.4" font-size="6.35" fill="#231e84" stroke="#231e84" stroke-width="0.4" text-anchor="start" font-weight="normal" textLength="28.8" lengthAdjust="spacingAndGlyphs" >(3) SIDES</text>
<text x="367" y="434.4" font-size="6.35" fill="#231e84" stroke="#231e84" stroke-width="0.4" text-anchor="start" font-weight="normal" textLength="84.5" lengthAdjust="spacingAndGlyphs" >1/4" AR400 (or equal) BLADE</text>
<path d="M365.8,431.9 H360.6 V485" stroke="#2c2792" stroke-width="1.11" fill="none" />
<polygon points="360.60,489.40 359.55,483.80 361.65,483.80" fill="#2c2792"/>
<text x="497.3" y="566.6" font-size="6.35" fill="#231e84" stroke="#231e84" stroke-width="0.4" text-anchor="start" font-weight="normal" textLength="83.7" lengthAdjust="spacingAndGlyphs" >RELUBE CAM FOLLOWERS</text>
<path d="M483.3,511 V556 Q483.3,564.5 490.3,564.5 H495.8" stroke="#2c2792" stroke-width="1.11" fill="none" />
<polygon points="483.30,506.60 484.35,512.20 482.25,512.20" fill="#2c2792"/>
<text x="380.6" y="580.6" font-size="5.7" fill="#231e84" stroke="#231e84" stroke-width="0.5" text-anchor="start" font-weight="normal" textLength="60.9" lengthAdjust="spacingAndGlyphs" >SECTION THRU GATE</text>
<line x1="882" y1="431.3" x2="882" y2="467.3" stroke="#2c2792" stroke-width="1.11" />
<line x1="882" y1="516.7" x2="882" y2="552.8" stroke="#2c2792" stroke-width="1.11" />
<polygon points="882.00,431.30 883.05,436.90 880.95,436.90" fill="#2c2792"/>
<polygon points="882.00,552.80 880.95,547.20 883.05,547.20" fill="#2c2792"/>
<text x="884.322" y="492.0" font-size="6.45" fill="#231e84" stroke="#231e84" stroke-width="0.4" text-anchor="middle" transform="rotate(-90 884.322 492.0)">10<tspan font-size="5.29" dy="-2.71">1</tspan><tspan font-size="11.29" dx="-1.03" dy="5.22">/</tspan><tspan font-size="5.29" dx="-1.03" dy="0">2</tspan><tspan dy="-2.52">" APPROX.</tspan></text>
<path d="M617.6,524 V564.5 H622.6" stroke="#2c2792" stroke-width="1.11" fill="none" />
<polygon points="617.60,523.60 618.65,529.20 616.55,529.20" fill="#2c2792"/>
<polygon points="617.60,552.80 616.55,547.20 618.65,547.20" fill="#2c2792"/>
<text x="624.6" y="566.6" font-size="6.45" fill="#231e84" stroke="#231e84" stroke-width="0.4" text-anchor="start">2<tspan font-size="5.29" dy="-2.71">11</tspan><tspan font-size="11.29" dx="-1.03" dy="5.22">/</tspan><tspan font-size="5.29" dx="-1.03" dy="0">16</tspan><tspan dy="-2.52">" APPROX.</tspan></text>
</g>
</svg>
</body></html>
